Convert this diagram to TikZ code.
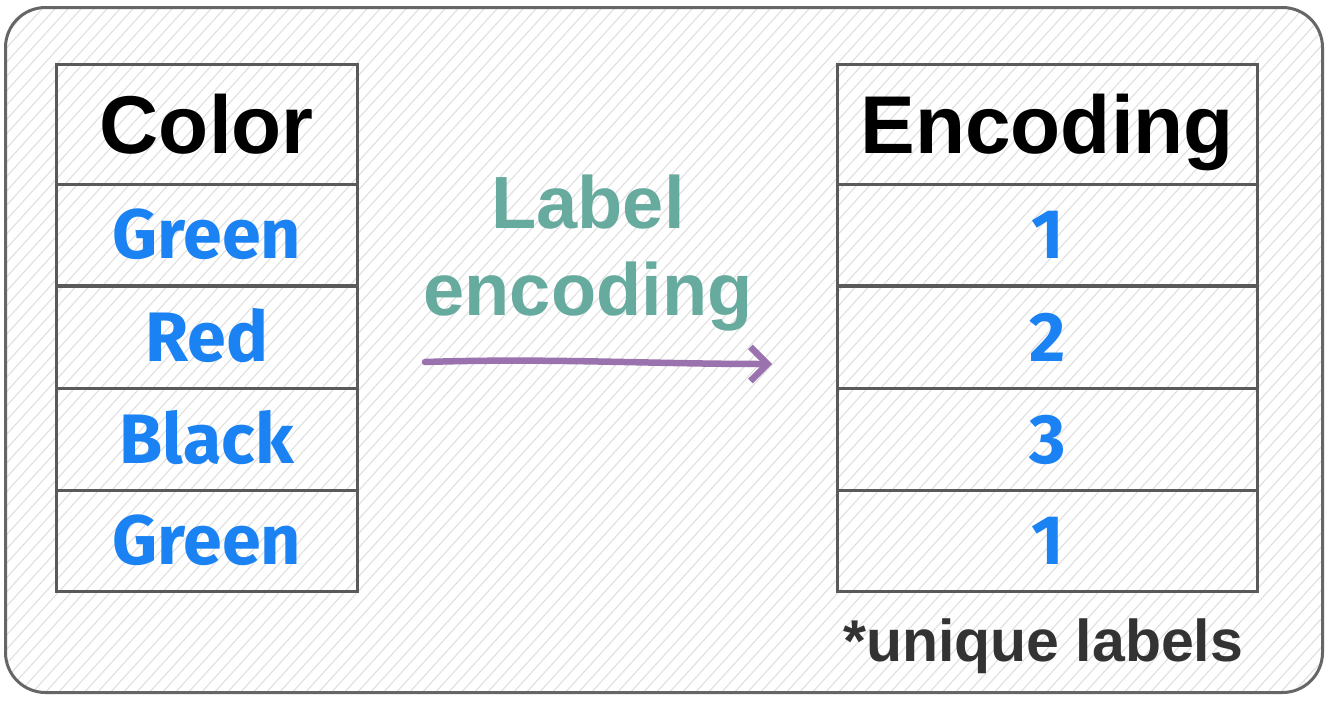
\documentclass[tikz,border=0pt]{standalone}
\usepackage{fontspec}
\setmainfont{Liberation Sans}
\newfontfamily\hand{Fira Sans}
\usetikzlibrary{arrows.meta}
\definecolor{frame}{HTML}{666666}
\definecolor{grid}{HTML}{5A5A5A}
\definecolor{bluet}{HTML}{1A82F2}
\definecolor{teal}{HTML}{67AB9F}
\definecolor{purp}{HTML}{9A72AE}
\definecolor{dark}{HTML}{333333}
\definecolor{hatch}{HTML}{E0E0E0}
\tikzset{
  cell/.style={draw=grid, line width=2.5pt, minimum width=#1, minimum height=101pt, inner sep=0pt, anchor=north west, text depth=0pt},
  head/.style={font=\fontsize{82}{82}\selectfont\bfseries, text=black, minimum height=120pt, text height=59pt},
  val/.style={font=\fontsize{70}{70}\hand\bfseries, text=bluet, text height=48pt},
}
\begin{document}
\begin{tikzpicture}[x=1pt,y=-1pt]
\useasboundingbox (0,0) rectangle (1326,705);
\fill[white] (0,0) rectangle (1326,705);
\begin{scope}
  \clip[rounded corners=40pt] (4,6) rectangle (1321,691);
  \foreach \i in {-720,-707,...,1330} \draw[hatch, line width=1.1pt] (\i,705) -- (\i+640,0);
\end{scope}
\node[draw=frame, line width=3pt, rounded corners=40pt, minimum width=1317pt, minimum height=685pt, anchor=north west] (outer) at (4,6) {};
% left table
\node[cell=301pt, head] (lh) at (55,63) {Color};
\node[cell=301pt, val] (l1) at (55,183) {Green};
\node[cell=301pt, val, minimum height=102pt] (l2) at (55,285) {Red};
\node[cell=301pt, val, minimum height=102pt] (l3) at (55,387) {Black};
\node[cell=301pt, val] (l4) at (55,489) {Green};
% right table
\node[cell=420pt, head] (rh) at (836,63) {Encoding};
\node[cell=420pt, val] (r1) at (836,183) {1};
\node[cell=420pt, val, minimum height=102pt] (r2) at (836,285) {2};
\node[cell=420pt, val, minimum height=102pt] (r3) at (836,387) {3};
\node[cell=420pt, val] (r4) at (836,489) {1};
% label
\node[font=\fontsize{74}{87}\selectfont\bfseries, text=teal, align=center, inner sep=0pt, anchor=base] (lab) at (588,315) {Label\\encoding};
\coordinate (as) at (425,362);
\coordinate (ae) at (772,364);
\draw[purp, line width=6.5pt, line cap=round, line join=round, -{Straight Barb[length=17pt,width=34pt]}] (as) .. controls (550,358) and (650,364) .. (ae);
\node[font=\fontsize{59}{59}\selectfont\bfseries, text=dark, inner sep=0pt, anchor=base west] (note) at (843,661) {*unique labels};
\end{tikzpicture}
\end{document}
